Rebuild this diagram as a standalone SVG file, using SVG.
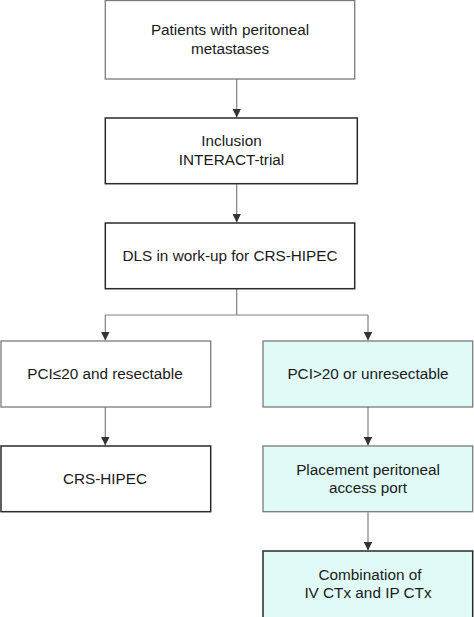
<svg xmlns="http://www.w3.org/2000/svg" width="474" height="617" viewBox="0 0 474 617">
<style>
.lt{fill:#ffffff;stroke:#7a7a7a;stroke-width:1.3}
.dk{fill:#ffffff;stroke:#2a2a2a;stroke-width:1.5}
.cy{fill:#e0fbf7}
.t{font-family:"Liberation Sans",Arial,sans-serif;font-size:15.3px;fill:#1a1a1a;text-anchor:middle}
.c{fill:none;stroke:#808080;stroke-width:1.2}
</style>
<defs>
<marker id="ah" viewBox="0 0 10 10" refX="10" refY="5" markerWidth="8.4" markerHeight="8.4" markerUnits="userSpaceOnUse" orient="auto">
<path d="M0,0 L10,5 L0,10 Z" fill="#333"/>
</marker>
</defs>
<rect width="474" height="617" fill="#ffffff"/>
<g id="connectors">
<path class="c" d="M236.7,79 V117.5" marker-end="url(#ah)"/>
<path class="c" d="M236.7,184 V222.5" marker-end="url(#ah)"/>
<path class="c" d="M236.7,289 V315 M105.3,315 H368"/>
<path class="c" d="M105.3,315 V340.5" marker-end="url(#ah)"/>
<path class="c" d="M368,315 V340.5" marker-end="url(#ah)"/>
<path class="c" d="M105.3,407 V445.5" marker-end="url(#ah)"/>
<path class="c" d="M368,407 V445.5" marker-end="url(#ah)"/>
<path class="c" d="M368,512 V550.5" marker-end="url(#ah)"/>
</g>
<g id="n1"><rect class="lt" x="105.3" y="0.5" width="249.4" height="78.5"/>
<text class="t" x="230" y="35">Patients with peritoneal</text><text class="t" x="230" y="53.5">metastases</text></g>
<g id="n2"><rect class="dk" x="105.3" y="118" width="252" height="65.7"/>
<text class="t" x="231.5" y="146">Inclusion</text><text class="t" x="231.5" y="165">INTERACT-trial</text></g>
<g id="n3"><rect class="dk" x="105.3" y="223" width="249.4" height="65.7"/>
<text class="t" x="230" y="260.5">DLS in work-up for CRS-HIPEC</text></g>
<g id="n4"><rect class="lt" x="1" y="341" width="209.7" height="66"/>
<text class="t" x="105" y="378.5">PCI≤20 and resectable</text></g>
<g id="n5"><rect class="lt cy" x="263" y="341" width="209.7" height="66"/>
<text class="t" x="368" y="378.5">PCI&gt;20 or unresectable</text></g>
<g id="n6"><rect class="dk" x="1" y="446" width="209.7" height="65.7"/>
<text class="t" x="105" y="484">CRS-HIPEC</text></g>
<g id="n7"><rect class="lt cy" x="263" y="446" width="209.7" height="65.7"/>
<text class="t" x="368" y="474.5">Placement peritoneal</text><text class="t" x="368" y="493">access port</text></g>
<g id="n8"><rect class="dk cy" x="263" y="551" width="209.7" height="70"/>
<text class="t" x="370" y="579.5">Combination of</text><text class="t" x="368" y="597.5">IV CTx and IP CTx</text></g>
</svg>
